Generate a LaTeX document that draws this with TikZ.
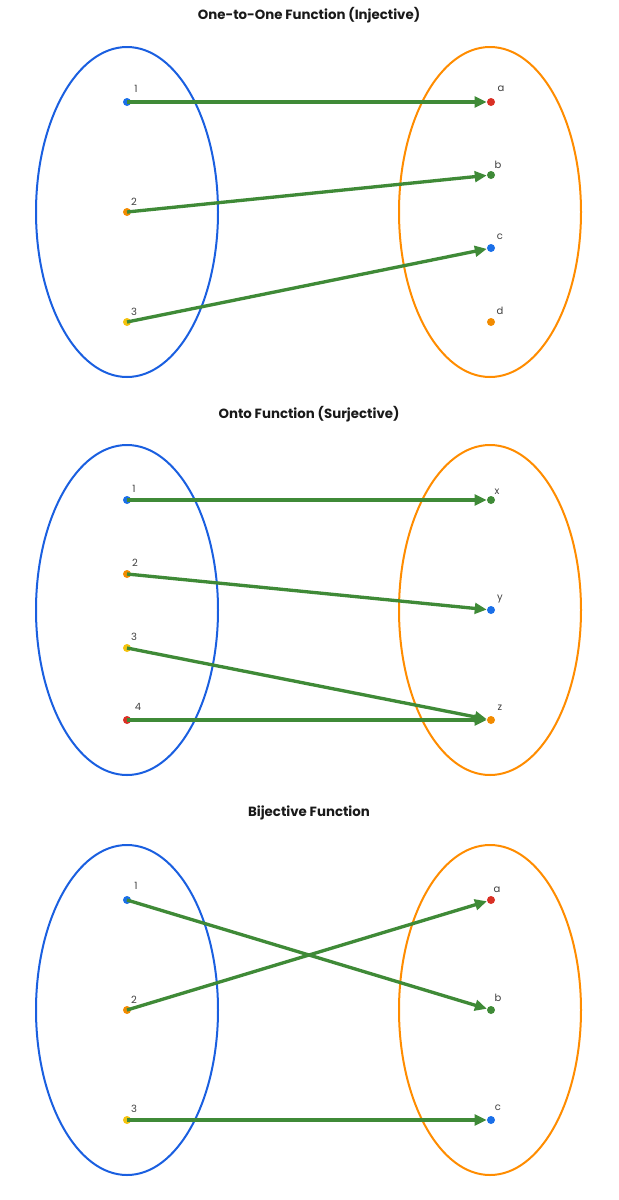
\documentclass[tikz,border=0pt]{standalone}
\usepackage{fontspec}
\setmainfont{Poppins}
\usetikzlibrary{arrows.meta}
\definecolor{eblue}{HTML}{1A5FE0}
\definecolor{eorange}{HTML}{FF8C00}
\definecolor{agreen}{HTML}{3F8A37}
\definecolor{dblue}{HTML}{1A6FE8}
\definecolor{dorange}{HTML}{F28B00}
\definecolor{dyellow}{HTML}{F4C20D}
\definecolor{dred}{HTML}{D93025}
\tikzset{
  setl/.style={draw=eblue,line width=1.5pt},
  setr/.style={draw=eorange,line width=1.5pt},
  dot/.style={circle,inner sep=0pt,minimum size=6pt,fill=#1},
  lbl/.style={font=\fontsize{7.5}{9}\selectfont,text=black!75,inner sep=0pt},
  ttl/.style={font=\fontsize{10}{12}\selectfont\bfseries,text=black!90,inner sep=0pt},
  map/.style={draw=agreen,line width=2.5pt,-{Stealth[length=9pt,width=8pt,inset=0pt]},shorten >=0pt}
}
\begin{document}
\begin{tikzpicture}[x=0.75pt,y=-0.75pt]
\useasboundingbox (0,0) rectangle (618,1200);
% ---------- Section 1 ----------
\node[ttl] (t1) at (309,15) {One-to-One Function (Injective)};
\draw[setl] (127,212) ellipse [x radius=91,y radius=165];
\draw[setr] (490,212) ellipse [x radius=91,y radius=165];
\node[dot=dblue] (a1) at (127,102) {};
\node[dot=dorange] (a2) at (127,212) {};
\node[dot=dyellow] (a3) at (127,322) {};
\node[dot=dred] (ba) at (491,102) {};
\node[dot=agreen] (bb) at (491,175) {};
\node[dot=dblue] (bc) at (491,248) {};
\node[dot=dorange] (bd) at (491,322) {};
\node[lbl] (la1) at (136,89) {1};
\node[lbl] (la2) at (134,202) {2};
\node[lbl] (la3) at (134,312) {3};
\node[lbl] (lba) at (501,89) {a};
\node[lbl] (lbb) at (498,165) {b};
\node[lbl] (lbc) at (500,237) {c};
\node[lbl] (lbd) at (500,311) {d};
\draw[map] (a1.center) -- (ba);
\draw[map] (a2.center) -- (bb);
\draw[map] (a3.center) -- (bc);
% ---------- Section 2 ----------
\node[ttl] (t2) at (309,414) {Onto Function (Surjective)};
\draw[setl] (127,610) ellipse [x radius=91,y radius=165];
\draw[setr] (490,610) ellipse [x radius=91,y radius=165];
\node[dot=dblue] (c1) at (127,500) {};
\node[dot=dorange] (c2) at (127,574) {};
\node[dot=dyellow] (c3) at (127,648) {};
\node[dot=dred] (c4) at (127,720) {};
\node[dot=agreen] (dx) at (491,500) {};
\node[dot=dblue] (dy) at (491,610) {};
\node[dot=dorange] (dz) at (491,720) {};
\node[lbl] (lc1) at (134,489) {1};
\node[lbl] (lc2) at (135,563) {2};
\node[lbl] (lc3) at (134,637) {3};
\node[lbl] (lc4) at (138,707) {4};
\node[lbl] (ldx) at (497,492) {x};
\node[lbl] (ldy) at (500,599) {y};
\node[lbl] (ldz) at (500,708) {z};
\draw[map] (c1.center) -- (dx);
\draw[map] (c2.center) -- (dy);
\draw[map] (c3.center) -- (dz);
\draw[map] (c4.center) -- (dz);
% ---------- Section 3 ----------
\node[ttl] (t3) at (309,813) {Bijective Function};
\draw[setl] (127,1010) ellipse [x radius=91,y radius=165];
\draw[setr] (490,1010) ellipse [x radius=91,y radius=165];
\node[dot=dblue] (e1) at (127,900) {};
\node[dot=dorange] (e2) at (127,1010) {};
\node[dot=dyellow] (e3) at (127,1120) {};
\node[dot=dred] (fa) at (491,900) {};
\node[dot=agreen] (fb) at (491,1010) {};
\node[dot=dblue] (fc) at (491,1120) {};
\node[lbl] (le1) at (136,886) {1};
\node[lbl] (le2) at (134,1000) {2};
\node[lbl] (le3) at (134,1109) {3};
\node[lbl] (lfa) at (497,890) {a};
\node[lbl] (lfb) at (498,998) {b};
\node[lbl] (lfc) at (498,1108) {c};
\draw[map] (e1.center) -- (fb);
\draw[map] (e2.center) -- (fa);
\draw[map] (e3.center) -- (fc);
\end{tikzpicture}
\end{document}
